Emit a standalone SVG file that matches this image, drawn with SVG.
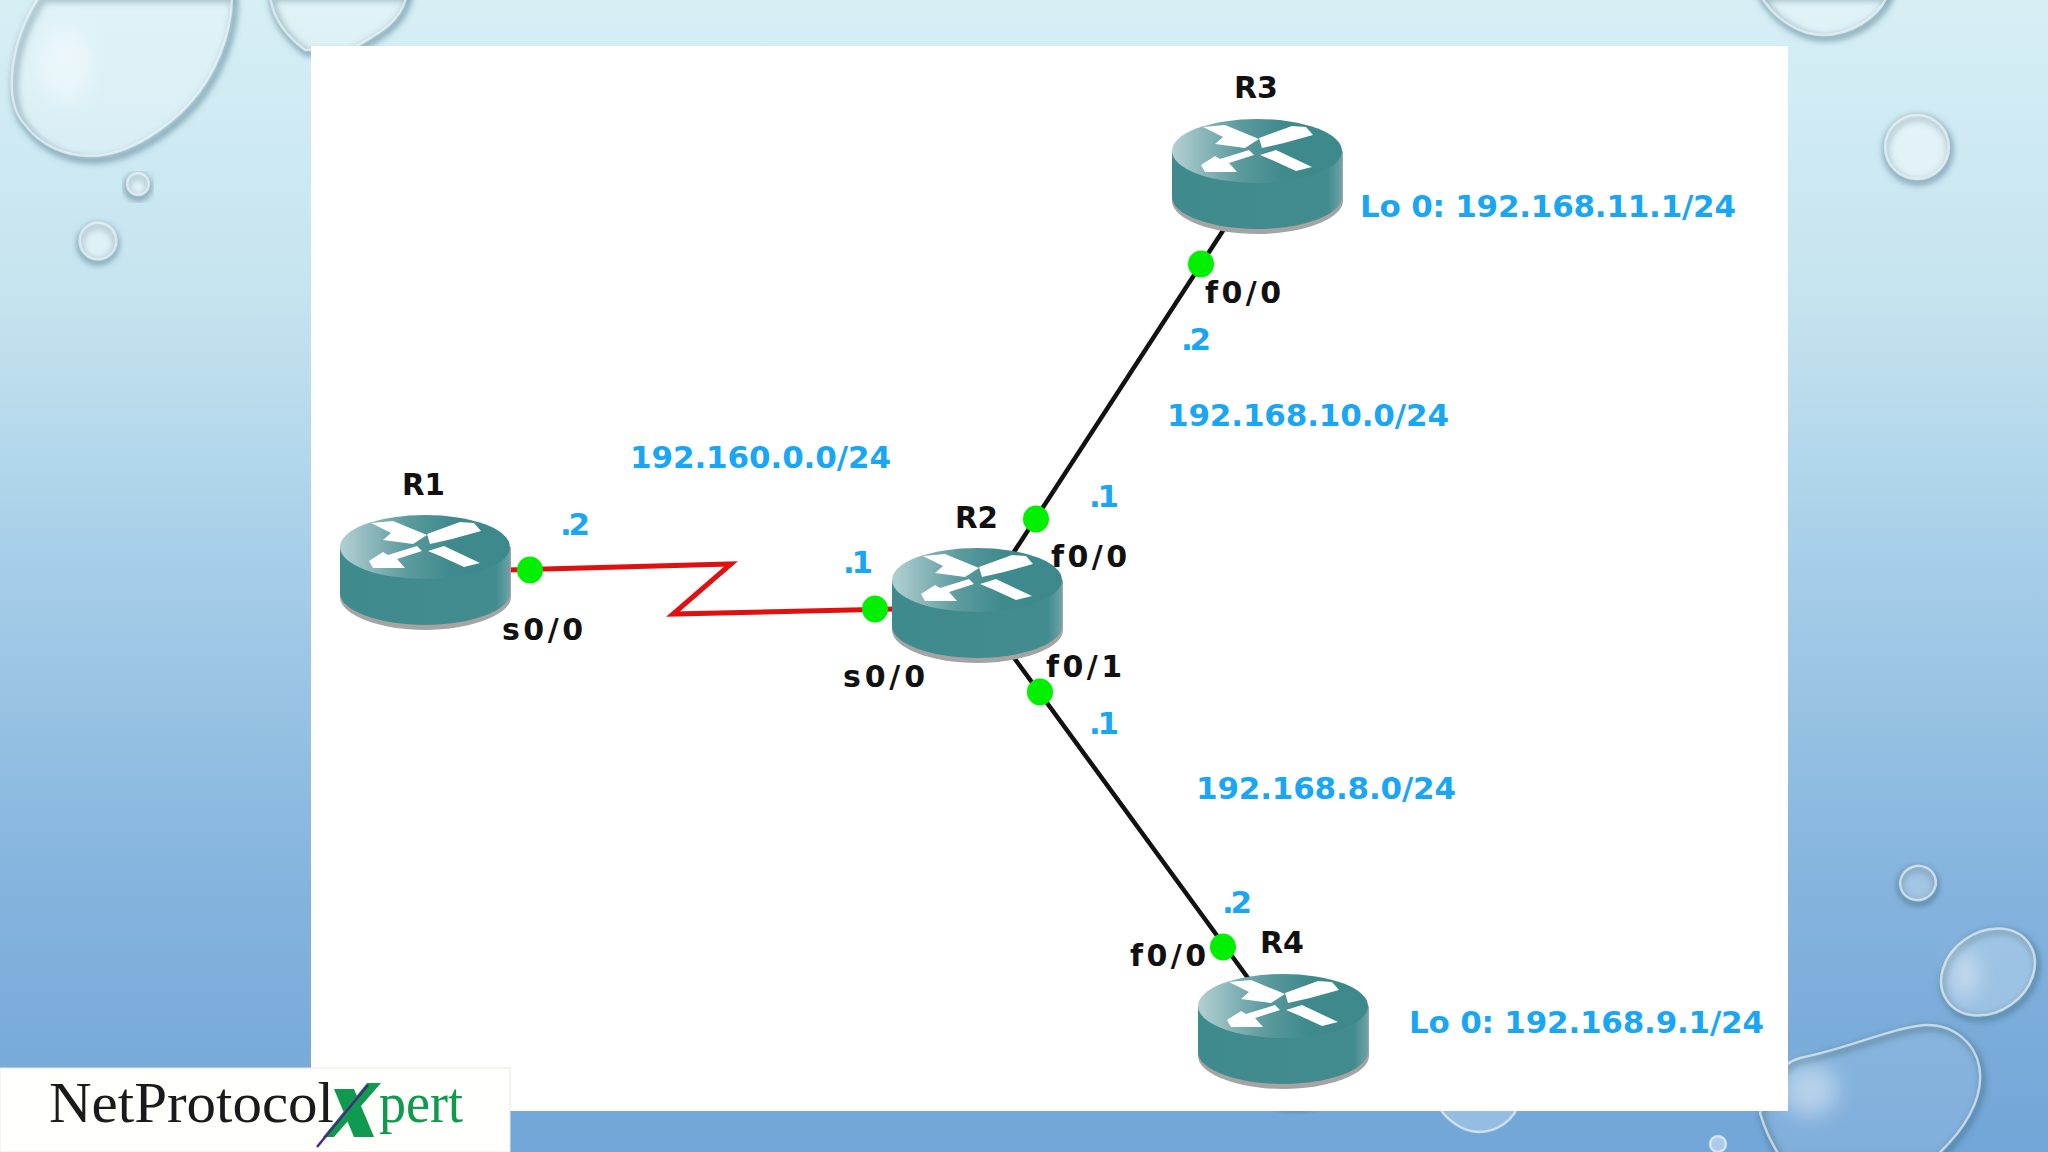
<svg xmlns="http://www.w3.org/2000/svg" width="2048" height="1152" viewBox="0 0 2048 1152">
<defs>
<linearGradient id="bg" x1="0" y1="0" x2="0" y2="1"><stop offset="0" stop-color="#d6eff5"/><stop offset=".25" stop-color="#c6e4ef"/><stop offset=".5" stop-color="#a5cde8"/><stop offset=".75" stop-color="#86b5de"/><stop offset="1" stop-color="#72a6d8"/></linearGradient>
<linearGradient id="body" x1="0" y1="0" x2="1" y2="0"><stop offset="0" stop-color="#3f8a8d"/><stop offset=".92" stop-color="#428c90"/><stop offset="1" stop-color="#6fa3a6"/></linearGradient>
<linearGradient id="top" x1="0" y1="0" x2="1" y2="0"><stop offset="0" stop-color="#b3d0d3"/><stop offset=".4" stop-color="#5b9a9d"/><stop offset=".65" stop-color="#3f8a8d"/><stop offset="1" stop-color="#3c888b"/></linearGradient>
<filter id="sh" x="-20%" y="-20%" width="140%" height="140%"><feGaussianBlur stdDeviation="3"/></filter>
<filter id="soft" x="-50%" y="-50%" width="200%" height="200%"><feGaussianBlur stdDeviation="10"/></filter>
<g id="router">
<path d="M-85 0V50C-85 68 -45 83 0 83S86 68 86 50V0Z" fill="#a4a4a4"/>
<path d="M-85 0V46C-85 64 -45 78 0 78S85 64 85 46V0Z" fill="url(#body)"/>
<ellipse cx="0" cy="0" rx="85" ry="32" fill="url(#top)"/>
<path d="M-54 -24L-32 -26L2 -12L-12 -3L-42 -7L-34 -14Z M2 -13L35 -25L49 -24L56 -16L27 -8L5 -3Z M-56 14L-42 5L-37 8L-8 -1L-3 4L-28 12L-20 21L-52 21Z M3 4L19 -1L55 16L39 20L15 9Z" fill="#fff"/>
</g>
</defs>
<style>
.lb{font-family:"DejaVu Sans",Verdana,sans-serif;font-weight:700;font-size:30px;fill:#111}
.bl{font-family:"DejaVu Sans",Verdana,sans-serif;font-weight:700;font-size:31px;fill:#18a6f5}
.d{fill:#00f000}
.dr{fill:#fff;fill-opacity:.24;stroke:#f2f9fb;stroke-width:2.500;stroke-opacity:.65}
.sm{fill-opacity:.42}
.ds{fill:none;stroke:#3f6c80;stroke-width:6;stroke-opacity:.6;filter:url(#sh)}
.hl{fill:#fff;opacity:.4;filter:url(#soft)}
.lg{font-family:"Liberation Serif","Times New Roman",serif;font-size:58px}
</style>
<rect width="2048" height="1152" fill="url(#bg)"/>
<g id="droplets">
<path d="M40 -5C10 40 2 100 25 125C40 145 65 156 90 156C130 156 170 125 190 103C215 75 232 35 232 -5Z" class="ds" transform="translate(3 4)"/>
<path d="M40 -5C10 40 2 100 25 125C40 145 65 156 90 156C130 156 170 125 190 103C215 75 232 35 232 -5Z" class="dr"/>
<ellipse cx="65" cy="65" rx="28" ry="38" class="hl"/>
<path d="M270 -5C272 18 285 35 305 50L350 50C375 35 400 25 407 -5Z" class="ds" transform="translate(2 3)"/>
<path d="M270 -5C272 18 285 35 305 50L350 50C375 35 400 25 407 -5Z" class="dr"/>
<circle cx="138" cy="187" r="11" class="ds"/><circle cx="98" cy="244" r="18" class="ds"/>
<circle cx="138" cy="184" r="11" class="dr sm"/><circle cx="98" cy="241" r="18.500" class="dr sm"/>
<path d="M1760 -5C1775 20 1800 35 1823 35C1850 35 1878 18 1888 -5Z" class="ds" transform="translate(2 3)"/>
<path d="M1760 -5C1775 20 1800 35 1823 35C1850 35 1878 18 1888 -5Z" class="dr"/>
<circle cx="1918" cy="150" r="32" class="ds"/>
<circle cx="1917" cy="147" r="32" class="dr sm"/>
<ellipse cx="1918" cy="886" rx="18" ry="17" class="ds"/>
<ellipse cx="1918" cy="883" rx="18" ry="17" class="dr" transform="rotate(-20 1918 883)"/>
<ellipse cx="1990" cy="975" rx="50" ry="40" class="ds" transform="rotate(-35 1990 975)"/>
<ellipse cx="1988" cy="972" rx="50" ry="40" class="dr" transform="rotate(-35 1988 972)"/>
<ellipse cx="1965" cy="975" rx="14" ry="24" class="hl"/>
<path d="M1760 1113C1765 1130 1770 1140 1780 1157L1935 1157C1965 1130 1982 1100 1980 1073C1978 1045 1955 1024 1925 1025C1890 1028 1850 1048 1800 1058C1785 1062 1770 1075 1760 1113Z" class="ds" transform="translate(2 3)"/>
<path d="M1760 1113C1765 1130 1770 1140 1780 1157L1935 1157C1965 1130 1982 1100 1980 1073C1978 1045 1955 1024 1925 1025C1890 1028 1850 1048 1800 1058C1785 1062 1770 1075 1760 1113Z" class="dr" style="fill-opacity:.1"/>
<ellipse cx="1810" cy="1090" rx="28" ry="26" class="hl"/>
<path d="M1435 1100C1445 1122 1465 1132 1479 1132C1495 1132 1515 1122 1520 1100Z" class="dr"/>
<path d="M1270 1105C1280 1114 1310 1114 1320 1105Z" fill="#44708c" fill-opacity=".6" filter="url(#sh)"/>
<circle cx="1718" cy="1144" r="8" class="dr sm"/>
</g>
<rect id="panel" x="311" y="46" width="1477" height="1065" fill="#fff"/>
<g id="connectors" fill="none">
<path d="M505 570L731 564L673 614L895 609" stroke="#e01010" stroke-width="5"/>
<path d="M1226 226L1010 558" stroke="#111" stroke-width="4.500"/>
<path d="M1012 655L1248 978" stroke="#111" stroke-width="4.500"/>
</g>
<g id="R1"><use href="#router" x="425" y="547"/><text class="lb" x="402" y="495" textLength="43" lengthAdjust="spacingAndGlyphs">R1</text></g>
<g id="R2"><use href="#router" x="977" y="580"/><text class="lb" x="955" y="528" textLength="43" lengthAdjust="spacingAndGlyphs">R2</text></g>
<g id="R3"><use href="#router" x="1257" y="151"/><text class="lb" x="1234" y="98" textLength="44" lengthAdjust="spacingAndGlyphs">R3</text></g>
<g id="R4"><use href="#router" x="1283" y="1006"/><text class="lb" x="1260" y="953" textLength="44" lengthAdjust="spacingAndGlyphs">R4</text></g>
<g id="ports">
<ellipse class="d" cx="530" cy="570" rx="13" ry="13.500"/><ellipse class="d" cx="875" cy="609" rx="13" ry="13.500"/>
<ellipse class="d" cx="1201" cy="264" rx="13" ry="13.500"/><ellipse class="d" cx="1036" cy="519" rx="13" ry="13.500"/>
<ellipse class="d" cx="1040" cy="692" rx="13" ry="13.500"/><ellipse class="d" cx="1223" cy="947" rx="13" ry="13.500"/>
</g>
<g id="labels">
<text class="lb" x="502" y="640" textLength="81">s0/0</text><text class="lb" x="843" y="687" textLength="82">s0/0</text>
<text class="lb" x="1205" y="303" textLength="76">f0/0</text><text class="lb" x="1051" y="567" textLength="76">f0/0</text>
<text class="lb" x="1046" y="677" textLength="76">f0/1</text><text class="lb" x="1130" y="966" textLength="76">f0/0</text>
<text class="bl" x="630" y="468" textLength="261">192.160.0.0/24</text><text class="bl" x="560" y="535" textLength="30">.2</text><text class="bl" x="843" y="573" textLength="30">.1</text>
<text class="bl" x="1360" y="217" textLength="376">Lo 0: 192.168.11.1/24</text><text class="bl" x="1181" y="350" textLength="30">.2</text>
<text class="bl" x="1167" y="426" textLength="282">192.168.10.0/24</text><text class="bl" x="1089" y="507" textLength="30">.1</text><text class="bl" x="1089" y="734" textLength="30">.1</text>
<text class="bl" x="1196" y="799" textLength="260">192.168.8.0/24</text><text class="bl" x="1222" y="913" textLength="30">.2</text>
<text class="bl" x="1409" y="1033" textLength="355">Lo 0: 192.168.9.1/24</text>
</g>
<g id="logo">
<rect x="0" y="1068" width="510" height="84" fill="#fffffb" stroke="#e8e8e8" stroke-width="1"/>
<text class="lg" x="49" y="1122" fill="#1a1a1a" textLength="285" lengthAdjust="spacingAndGlyphs">NetProtocol</text>
<path d="M334 1089H354L374 1137H354Z M367 1083H381L334 1137H323Z" fill="#109a50"/>
<path d="M317 1147L368 1085" stroke="#4a2a80" stroke-width="2.500" fill="none"/>
<text class="lg" x="379" y="1122" fill="#109a50" textLength="84" lengthAdjust="spacingAndGlyphs">pert</text>
</g>
</svg>
